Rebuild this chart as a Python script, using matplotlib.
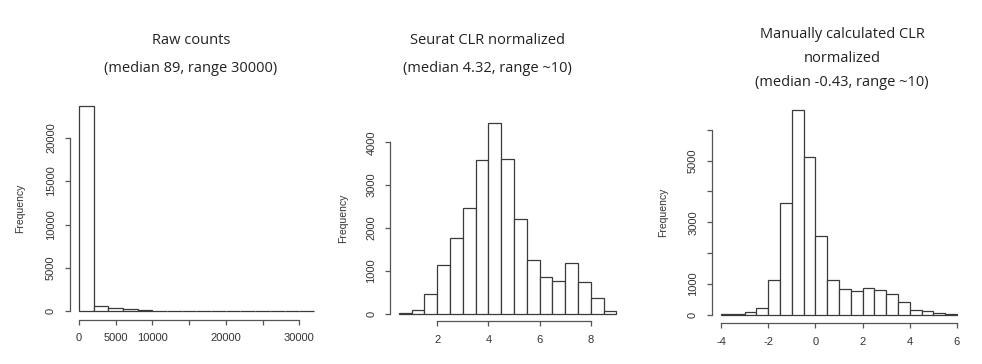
import numpy as np
import matplotlib.pyplot as plt

# histogram bins and counts
raw_edges = np.arange(0, 32001, 2000)
raw_counts = [23700, 580, 415, 230, 115, 70, 60, 50, 45, 40, 35, 30, 0, 0, 0, 0]

seurat_edges = np.arange(0.5, 9.01, 0.5)
seurat_counts = [15, 85, 460, 1130, 1760, 2470, 3580, 4460, 3600, 2200,
                 1250, 850, 770, 1175, 730, 360, 70]

manual_edges = np.arange(-4, 6.01, 0.5)
manual_counts = [20, 20, 85, 235, 1120, 3610, 6650, 5120, 2565, 1150,
                 830, 787, 860, 810, 670, 430, 160, 120, 55, 20]

titles = [
    ["Raw counts", "(median 89, range 30000)"],
    ["Seurat CLR normalized", "(median 4.32, range ~10)"],
    ["Manually calculated CLR", "normalized", "(median -0.43, range ~10)"],
]

x_ticks = [[0, 5000, 10000, 15000, 20000, 25000, 30000], [2, 4, 6, 8], [-4, -2, 0, 2, 4, 6]]
x_labels = [["0", "5000", "10000", "", "20000", "", "30000"],
            ["2", "4", "6", "8"], ["-4", "-2", "0", "2", "4", "6"]]
y_ticks = [[0, 5000, 10000, 15000, 20000], [0, 1000, 2000, 3000, 4000],
           [0, 1000, 2000, 3000, 4000, 5000, 6000]]
y_labels = [["0", "5000", "10000", "15000", "20000"],
            ["0", "1000", "2000", "3000", "4000"],
            ["0", "1000", "", "3000", "", "5000", ""]]

W, H = 982, 364
fig = plt.figure(figsize=(W / 100, H / 100), dpi=100)
plt.rcParams['font.family'] = ['Liberation Sans', 'DejaVu Sans']

# plot regions in pixels: left, right, top, bottom
boxes = [(69.6, 323.3, 97.4, 319.5), (390.2, 625.0, 114.9, 321.3), (711.7, 966.3, 101.3, 323.3)]
data = [(raw_edges, raw_counts), (seurat_edges, seurat_counts), (manual_edges, manual_counts)]
ylab_x = [25, 348, 668]

edge = '#3a3a3a'
for i, ((l, r, t, b), (edges, counts)) in enumerate(zip(boxes, data)):
    ax = fig.add_axes([l / W, (H - b) / H, (r - l) / W, (b - t) / H])
    widths = np.diff(edges)
    ax.bar(edges[:-1], counts, width=widths, align='edge', color='white',
           edgecolor=edge, linewidth=0.9)
    lo, hi = edges[0], edges[-1]
    pad = 0.04 * (hi - lo)
    ax.set_xlim(lo - pad, hi + pad)
    ymax = max(counts)
    ax.set_ylim(-0.04 * ymax, 1.04 * ymax)
    ax.spines[['top', 'right']].set_visible(False)
    for s in ['left', 'bottom']:
        ax.spines[s].set_color('#555555')
        ax.spines[s].set_linewidth(0.9)
    ax.spines['bottom'].set_bounds(x_ticks[i][0], x_ticks[i][-1])
    ax.spines['left'].set_bounds(y_ticks[i][0], y_ticks[i][-1])
    ax.set_xticks(x_ticks[i])
    ax.set_xticklabels(x_labels[i])
    ax.set_yticks(y_ticks[i])
    ax.set_yticklabels(y_labels[i], rotation=90, va='center')
    ax.tick_params(length=3.8, width=0.9, color='#555555', labelsize=8,
                   labelcolor='#333333', pad=6)
    ax.set_ylabel("Frequency", fontsize=7.5, color='#333333')
    ax.yaxis.set_label_coords((ylab_x[i] - l) / (r - l), 0.5)
    ax.patch.set_visible(False)

# titles
title_pos = [(191, [40, 68]), (487, [40, 68]), (842, [35, 58, 83])]
for (cx, ys), lines in zip(title_pos, titles):
    for y, txt in zip(ys, lines):
        fig.text(cx / W, 1 - y / H, txt, ha='center', va='center',
                 fontsize=10.5, family=['Open Sans', 'DejaVu Sans'], color='#222222')

fig.savefig("out.png", dpi=100)
